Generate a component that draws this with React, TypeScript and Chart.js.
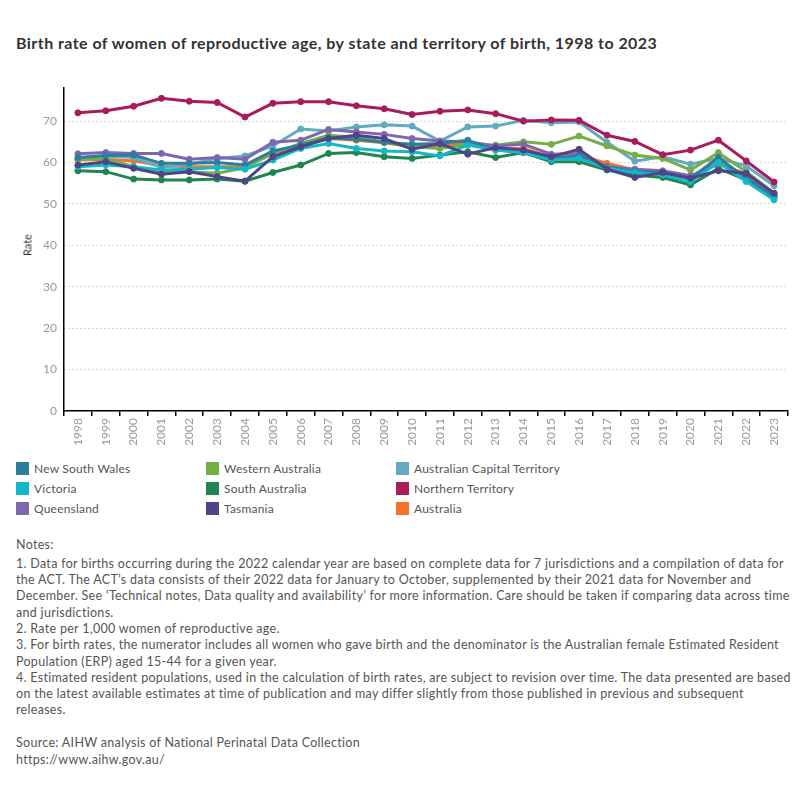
import React, { useEffect, useRef } from "react";
import { Chart, registerables } from "chart.js";

Chart.register(...registerables);

const years = ["1998","1999","2000","2001","2002","2003","2004","2005","2006","2007","2008","2009","2010","2011","2012","2013","2014","2015","2016","2017","2018","2019","2020","2021","2022","2023"];

const nsw = [61.2, 61.7, 61.8, 59.8, 59.8, 60.0, 59.4, 62.8, 64.2, 66.0, 65.6, 64.9, 64.4, 64.6, 65.4, 63.0, 62.4, 61.0, 61.6, 58.8, 57.8, 57.6, 56.2, 61.2, 56.2, 51.6];
const vic = [59.0, 59.4, 59.0, 58.2, 58.4, 58.8, 58.4, 60.6, 63.4, 64.6, 63.4, 62.8, 62.6, 61.6, 64.2, 63.0, 62.4, 60.6, 61.0, 58.6, 57.6, 57.0, 55.4, 60.0, 55.4, 51.0];
const qld = [62.1, 62.4, 62.2, 62.2, 60.8, 61.2, 60.8, 64.9, 65.4, 68.0, 67.4, 66.8, 65.8, 65.2, 65.0, 64.0, 64.4, 62.0, 62.2, 59.0, 58.4, 58.0, 56.8, 59.6, 57.2, 52.2];
const wa = [60.8, 61.0, 59.0, 57.8, 57.8, 57.4, 58.7, 62.2, 64.6, 66.6, 66.1, 64.9, 63.8, 63.4, 64.4, 64.2, 65.0, 64.4, 66.4, 64.0, 61.8, 61.0, 58.2, 62.4, 57.8, 52.6];
const sa = [58.0, 57.8, 56.0, 55.8, 55.8, 56.0, 55.5, 57.6, 59.4, 62.2, 62.4, 61.4, 61.0, 61.8, 62.6, 61.2, 62.4, 60.2, 60.2, 58.2, 57.0, 56.4, 54.6, 58.6, 55.8, 52.0];
const tas = [59.4, 60.2, 58.6, 57.2, 57.8, 56.6, 55.5, 61.4, 63.8, 65.8, 66.6, 65.8, 63.2, 64.6, 62.0, 63.6, 63.0, 61.4, 63.2, 58.4, 56.4, 57.6, 56.2, 58.0, 57.4, 52.6];
const act = [60.8, 61.6, 61.2, 58.8, 59.6, 61.0, 61.6, 64.0, 68.1, 67.6, 68.6, 69.1, 68.8, 65.2, 68.6, 68.8, 70.2, 69.6, 69.8, 64.9, 60.3, 61.4, 59.6, 61.0, 59.2, 54.4];
const nt = [72.0, 72.5, 73.6, 75.5, 74.8, 74.5, 71.0, 74.3, 74.7, 74.7, 73.7, 73.0, 71.6, 72.4, 72.7, 71.8, 70.0, 70.3, 70.2, 66.6, 65.1, 61.9, 63.0, 65.4, 60.4, 55.3];
const aus = [60.6, 60.8, 60.4, 59.2, 59.0, 59.0, 59.0, 62.2, 64.0, 65.8, 65.4, 64.8, 63.8, 64.0, 64.8, 63.4, 63.4, 61.4, 61.8, 59.8, 58.2, 57.6, 56.2, 60.4, 56.6, 52.0];

const yTicks = [0, 10, 20, 30, 40, 50, 60, 70];

const seriesNames = ["New South Wales", "Victoria", "Queensland", "Western Australia", "South Australia", "Tasmania", "Australian Capital Territory", "Northern Territory", "Australia"];
const seriesColors = ["#2b7f9b", "#14b7c9", "#7e67b0", "#75ae46", "#22844f", "#4f4485", "#62a9c1", "#a91b5b", "#f47328"];
const seriesData = [nsw, vic, qld, wa, sa, tas, act, nt, aus];
// drawing order: lower = on top
const drawOrder = [3, 2, 4, 5, 6, 1, 7, 0, 9];

const legendCols = [
  [0, 1, 2],
  [3, 4, 5],
  [6, 7, 8],
];

const notes = [
  "1. Data for births occurring during the 2022 calendar year are based on complete data for 7 jurisdictions and a compilation of data for",
  "the ACT. The ACT\u2019s data consists of their 2022 data for January to October, supplemented by their 2021 data for November and",
  "December. See \u2018Technical notes, Data quality and availability\u2019 for more information. Care should be taken if comparing data across time",
  "and jurisdictions.",
  "2. Rate per 1,000 women of reproductive age.",
  "3. For birth rates, the numerator includes all women who gave birth and the denominator is the Australian female Estimated Resident",
  "Population (ERP) aged 15-44 for a given year.",
  "4. Estimated resident populations, used in the calculation of birth rates, are subject to revision over time. The data presented are based",
  "on the latest available estimates at time of publication and may differ slightly from those published in previous and subsequent",
  "releases.",
];

const FONT = "Lato, 'Noto Sans', sans-serif";

export default function App() {
  const ref = useRef<HTMLCanvasElement | null>(null);

  useEffect(() => {
    if (!ref.current) return;
    const chart = new Chart(ref.current, {
      type: "line",
      data: {
        labels: years,
        datasets: seriesData.map((d, i) => ({
          label: seriesNames[i],
          data: d,
          borderColor: seriesColors[i],
          backgroundColor: seriesColors[i],
          pointBackgroundColor: seriesColors[i],
          pointBorderColor: seriesColors[i],
          borderWidth: 3,
          pointRadius: 3,
          pointBorderWidth: 1,
          tension: 0,
          order: drawOrder[i],
        })),
      },
      options: {
        animation: false,
        responsive: false,
        maintainAspectRatio: false,
        layout: { padding: { top: 88, right: 12, left: 0, bottom: 0 } },
        plugins: { legend: { display: false }, tooltip: { enabled: false }, title: { display: false } },
        scales: {
          x: {
            type: "category",
            offset: true,
            grid: {
              offset: true,
              drawOnChartArea: false,
              drawTicks: true,
              tickLength: 5,
              color: "#000",
              lineWidth: 1.5,
            },
            border: { display: true, color: "#000", width: 1.5 },
            ticks: {
              color: "#999",
              font: { family: FONT, size: 12 },
              minRotation: 90,
              maxRotation: 90,
              autoSkip: false,
              padding: 2,
            },
            afterFit: (scale: any) => {
              scale.height = 40;
            },
          },
          y: {
            min: 0,
            max: 78,
            afterBuildTicks: (axis: any) => {
              axis.ticks = yTicks.map((v) => ({ value: v }));
            },
            grid: {
              drawTicks: false,
              color: (ctx: any) => (ctx.tick && ctx.tick.value === 0 ? "rgba(0,0,0,0)" : "#bdbdbd"),
              lineWidth: 1,
            },
            border: { display: true, color: "#000", width: 1.5, dash: [1.2, 2.8] },
            ticks: {
              color: "#999",
              font: { family: FONT, size: 12 },
              padding: 7,
            },
            afterFit: (scale: any) => {
              scale.width = 64;
            },
          },
        },
      },
    } as any);
    return () => chart.destroy();
  }, []);

  return (
    <div style={{ position: "absolute", left: 0, top: 0, width: 800, height: 800, background: "#fff", fontFamily: FONT, overflow: "hidden" }}>
      <div style={{ position: "absolute", left: 16, top: 33, fontSize: 16, fontWeight: 700, color: "#333", whiteSpace: "nowrap", letterSpacing: 0.45 }}>
        Birth rate of women of reproductive age, by state and territory of birth, 1998 to 2023
      </div>
      <canvas ref={ref} width={800} height={451} style={{ position: "absolute", left: 0, top: 0, width: 800, height: 451 }} />
      <div style={{ position: "absolute", left: 27, top: 245, transform: "translate(-50%, -50%) rotate(-90deg)", fontSize: 11, color: "#333" }}>Rate</div>
      {legendCols.map((col, ci) => (
        <div key={ci} style={{ position: "absolute", left: [16, 206, 396][ci], top: 458 }}>
          {col.map((si) => (
            <div key={si} style={{ height: 20.4, display: "flex", alignItems: "center" }}>
              <span style={{ display: "inline-block", width: 13, height: 13, background: seriesColors[si], marginRight: 5 }} />
              <span style={{ fontSize: 12, color: "#555", whiteSpace: "nowrap", letterSpacing: 0.2 }}>{seriesNames[si]}</span>
            </div>
          ))}
        </div>
      ))}
      <div style={{ position: "absolute", left: 16, top: 537, fontSize: 12.5, color: "#555", lineHeight: "16.3px", whiteSpace: "nowrap", letterSpacing: 0.3 }}>
        <div>Notes:</div>
        <div style={{ height: 2.5 }} />
        {notes.map((n, i) => (
          <div key={i}>{n}</div>
        ))}
        <div style={{ height: 16.5 }} />
        <div>Source: AIHW analysis of National Perinatal Data Collection</div>
        <div>https://www.aihw.gov.au/</div>
      </div>
    </div>
  );
}
